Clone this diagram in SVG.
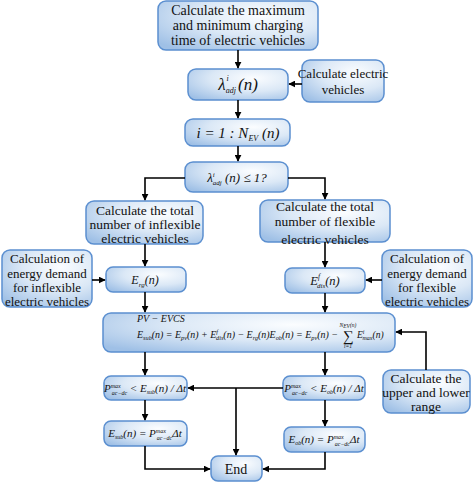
<svg xmlns="http://www.w3.org/2000/svg" width="474" height="483" viewBox="0 0 474 483">
<defs>
<radialGradient id="g" cx="0.65" cy="0.3" r="0.85">
<stop offset="0" stop-color="#fbfdff"/>
<stop offset="0.5" stop-color="#dbe8f6"/>
<stop offset="1" stop-color="#9fc0e6"/>
</radialGradient>
<marker id="a" viewBox="0 0 10 10" refX="9" refY="5" markerWidth="7" markerHeight="7" orient="auto" markerUnits="userSpaceOnUse">
<path d="M0,0 L10,5 L0,10 Z" fill="#000"/>
</marker>
</defs>
<style>
text{font-family:"Liberation Serif","Times New Roman","DejaVu Serif","Noto Serif",serif;fill:#111}
.b{fill:url(#g);stroke:#5b8fd0;stroke-width:1.5}
.t{font-size:13.5px;text-anchor:middle}
.m{font-style:italic;text-anchor:middle}
.c{fill:none;stroke:#000;stroke-width:1.6;marker-end:url(#a)}
</style>
<rect width="474" height="483" fill="#fff"/>
<g id="n1"><rect class="b" x="158" y="1" width="160" height="49" rx="8"/>
<text class="t" x="238" y="15" style="font-size:14px">Calculate the maximum</text>
<text class="t" x="238" y="30" style="font-size:14px">and minimum charging</text>
<text class="t" x="238" y="45" style="font-size:14px">time of electric vehicles</text></g>
<g id="n2"><rect class="b" x="188" y="69" width="100" height="31" rx="8"/>
<text class="m" x="238" y="90" style="font-size:17px">λ<tspan style="font-size:8px" dy="-9" dx="1">i</tspan><tspan style="font-size:8px" dy="12" dx="-3">adj</tspan><tspan dy="-3" dx="2">(</tspan><tspan>n</tspan><tspan>)</tspan></text></g>
<g id="n3"><rect class="b" x="302" y="60" width="82" height="42" rx="8"/>
<text class="t" x="343" y="78" style="font-size:13px">Calculate electric</text>
<text class="t" x="343" y="94" style="font-size:13px">vehicles</text></g>
<g id="n4"><rect class="b" x="185" y="119" width="105" height="27" rx="8"/>
<text class="m" x="238" y="138" style="font-size:15px"><tspan>i = 1 : N</tspan><tspan style="font-size:8px" dy="3">EV</tspan><tspan dy="-3"> (n)</tspan></text></g>
<g id="n5"><rect class="b" x="185" y="162" width="103" height="30" rx="8"/>
<text class="m" x="237" y="182" style="font-size:13px">λ<tspan style="font-size:7px" dy="-5">i</tspan><tspan style="font-size:7px" dy="8" dx="-2">adj</tspan><tspan dy="-3"> (n) ≤ 1?</tspan></text></g>
<g id="n6"><rect class="b" x="86" y="201" width="117" height="43" rx="8"/>
<text class="t" x="145" y="215">Calculate the total</text>
<text class="t" x="145" y="229">number of inflexible</text>
<text class="t" x="145" y="243">electric vehicles</text></g>
<g id="n7"><rect class="b" x="260" y="200" width="130" height="42" rx="8"/>
<text class="t" x="325" y="211">Calculate the total</text>
<text class="t" x="325" y="226">number of flexible</text>
<text class="t" x="325" y="244">electric vehicles</text></g>
<g id="n8"><rect class="b" x="2" y="250" width="90" height="57" rx="8"/>
<text class="t" x="47" y="263" style="font-size:13px">Calculation of</text>
<text class="t" x="47" y="277.5" style="font-size:13px">energy demand</text>
<text class="t" x="47" y="292" style="font-size:13px">for inflexible</text>
<text class="t" x="47" y="306" style="font-size:13px">electric vehicles</text></g>
<g id="n9"><rect class="b" x="106" y="267" width="80" height="25" rx="7"/>
<text class="m" x="145" y="284" style="font-size:12px">E<tspan style="font-size:7px" dy="3">rg</tspan><tspan dy="-3">(n)</tspan></text></g>
<g id="n10"><rect class="b" x="285" y="268" width="80" height="25" rx="7"/>
<text class="m" x="325" y="285" style="font-size:12.5px">E<tspan style="font-size:7.5px" dy="-6">f</tspan><tspan style="font-size:7px" dy="9" dx="-3">dis</tspan><tspan dy="-3">(n)</tspan></text></g>
<g id="n11"><rect class="b" x="382" y="250" width="90" height="57" rx="8"/>
<text class="t" x="427" y="263" style="font-size:13px">Calculation of</text>
<text class="t" x="427" y="277.5" style="font-size:13px">energy demand</text>
<text class="t" x="427" y="292" style="font-size:13px">for flexible</text>
<text class="t" x="427" y="306" style="font-size:13px">electric vehicles</text></g>
<g id="n12"><rect class="b" x="103" y="313" width="292" height="39" rx="8"/>
<text class="m" x="137" y="322" style="font-size:10px;text-anchor:start">PV − EVCS</text>
<text class="m" x="137" y="338" style="font-size:9.5px;text-anchor:start" textLength="201" lengthAdjust="spacingAndGlyphs">E<tspan style="font-size:6px" dy="2">sub</tspan><tspan dy="-2">(n) = E</tspan><tspan style="font-size:6px" dy="2">pv</tspan><tspan dy="-2">(n) + E</tspan><tspan style="font-size:6px" dy="-4">f</tspan><tspan style="font-size:6px" dy="6" dx="-2">dis</tspan><tspan dy="-2">(n) − E</tspan><tspan style="font-size:6px" dy="2">rg</tspan><tspan dy="-2">(n)E</tspan><tspan style="font-size:6px" dy="2">ob</tspan><tspan dy="-2">(n) = E</tspan><tspan style="font-size:6px" dy="2">pv</tspan><tspan dy="-2">(n) −</tspan></text>
<text x="348" y="341" style="font-size:15px;text-anchor:middle">∑</text>
<text class="m" x="357" y="338" style="font-size:9.5px;text-anchor:start">E<tspan style="font-size:6px" dy="-4">i</tspan><tspan style="font-size:6px" dy="6" dx="-2">max</tspan><tspan dy="-2">(n)</tspan></text>
<text class="m" x="348" y="327" style="font-size:5.5px">N<tspan dy="1">EV</tspan><tspan dy="-1">(n)</tspan></text>
<text class="m" x="348" y="348" style="font-size:5.5px">i=1</text></g>
<g id="n13"><rect class="b" x="383" y="370" width="87" height="43" rx="8"/>
<text class="t" x="426" y="383">Calculate the</text>
<text class="t" x="426" y="397">upper and lower</text>
<text class="t" x="426" y="411">range</text></g>
<g id="n14"><rect class="b" x="104" y="376" width="83" height="24" rx="7"/>
<text class="m" x="145" y="392" style="font-size:11px">P<tspan style="font-size:6px" dy="-4">max</tspan><tspan style="font-size:6px" dy="7" dx="-9">ac−dc</tspan><tspan dy="-3"> &lt; E</tspan><tspan style="font-size:6px" dy="2">sub</tspan><tspan dy="-2">(n) / Δt</tspan></text></g>
<g id="n15"><rect class="b" x="283" y="376" width="82" height="24" rx="7"/>
<text class="m" x="324" y="392" style="font-size:11px">P<tspan style="font-size:6px" dy="-4">max</tspan><tspan style="font-size:6px" dy="7" dx="-9">ac−dc</tspan><tspan dy="-3"> &lt; E</tspan><tspan style="font-size:6px" dy="2">ob</tspan><tspan dy="-2">(n) / Δt</tspan></text></g>
<g id="n16"><rect class="b" x="104" y="421" width="83" height="25" rx="7"/>
<text class="m" x="145" y="437" style="font-size:11px">E<tspan style="font-size:6px" dy="2">sub</tspan><tspan dy="-2">(n) = P</tspan><tspan style="font-size:6px" dy="-4">max</tspan><tspan style="font-size:6px" dy="7" dx="-9">ac−dc</tspan><tspan dy="-3">Δt</tspan></text></g>
<g id="n17"><rect class="b" x="284" y="427" width="81" height="25" rx="7"/>
<text class="m" x="324" y="443" style="font-size:11px">E<tspan style="font-size:6px" dy="2">ob</tspan><tspan dy="-2">(n) = P</tspan><tspan style="font-size:6px" dy="-4">max</tspan><tspan style="font-size:6px" dy="7" dx="-9">ac−dc</tspan><tspan dy="-3">Δt</tspan></text></g>
<g id="n18"><rect class="b" x="211" y="456" width="51" height="25" rx="7"/>
<text class="t" x="236" y="474" style="font-size:14px">End</text></g>
<g id="connectors">
<path class="c" d="M238,50 V68"/>
<path class="c" d="M302,84 H289"/>
<path class="c" d="M238,100 V118"/>
<path class="c" d="M238,146 V161"/>
<path class="c" d="M185,178 H145 V200"/>
<path class="c" d="M288,178 H325 V199"/>
<path class="c" d="M145,244 V266"/>
<path class="c" d="M325,242 V267"/>
<path class="c" d="M92,280 H105"/>
<path class="c" d="M382,280 H366"/>
<path class="c" d="M145,292 V312"/>
<path class="c" d="M325,293 V312"/>
<path class="c" d="M426,370 V332 H396"/>
<path class="c" d="M145,352 V375"/>
<path class="c" d="M325,352 V375"/>
<path class="c" d="M283,388 H188"/>
<path class="c" d="M236,388 V455"/>
<path class="c" d="M145,400 V420"/>
<path class="c" d="M325,400 V426"/>
<path class="c" d="M145,446 V469 H210"/>
<path class="c" d="M325,452 V469 H263"/>
</g>
</svg>
